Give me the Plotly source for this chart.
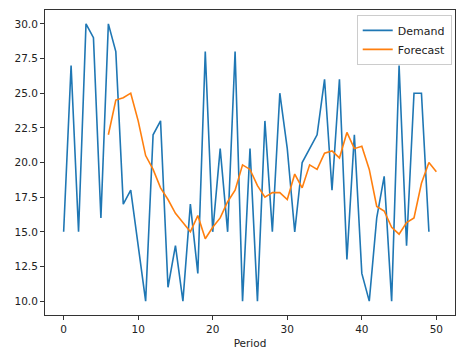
import plotly.graph_objects as go

demand_period = list(range(0, 50))
demand = [15, 27, 15, 30, 29, 16, 30, 28, 17, 18,
          14, 10, 22, 23, 11, 14, 10, 17, 12, 28,
          15, 21, 15, 28, 10, 21, 10, 23, 15, 25,
          21, 15, 20, 21, 22, 26, 18, 26, 13, 22,
          12, 10, 16, 19, 10, 27, 14, 25, 25, 15]

forecast_period = list(range(6, 51))
forecast = [22.0, 24.5, 24.67, 25.0, 23.0, 20.5, 19.5, 18.17, 17.33, 16.33,
            15.67, 15.0, 16.17, 14.5, 15.33, 16.0, 17.17, 18.0, 19.83, 19.5,
            18.33, 17.5, 17.83, 17.83, 17.33, 19.17, 18.17, 19.83, 19.5, 20.67,
            20.83, 20.33, 22.17, 21.0, 21.17, 19.5, 16.83, 16.5, 15.33, 14.83,
            15.67, 16.0, 18.5, 20.0, 19.33]

x_ticks = [0, 10, 20, 30, 40, 50]
y_ticks = [10.0, 12.5, 15.0, 17.5, 20.0, 22.5, 25.0, 27.5, 30.0]

fig = go.Figure()
fig.add_trace(go.Scatter(x=demand_period, y=demand, mode="lines", name="Demand",
                         line=dict(color="#1f77b4", width=1.6)))
fig.add_trace(go.Scatter(x=forecast_period, y=forecast, mode="lines", name="Forecast",
                         line=dict(color="#ff7f0e", width=1.6)))

axis_common = dict(showline=True, mirror=True, linecolor="#333333", linewidth=1,
                   showgrid=False, zeroline=False, ticks="outside", ticklen=4,
                   tickcolor="#333333", tickwidth=1, automargin=False,
                   tickfont=dict(family="DejaVu Sans", size=10.5, color="#222222"))

fig.update_layout(
    width=474, height=356,
    margin=dict(l=45, r=19, t=10, b=41),
    plot_bgcolor="white", paper_bgcolor="white",
    font=dict(family="DejaVu Sans", size=10.5, color="#222222"),
    xaxis=dict(range=[-2.5, 52.5], tickvals=x_ticks,
               title=dict(text="Period", standoff=6, font=dict(size=10.5)), **axis_common),
    yaxis=dict(range=[9, 31], tickvals=y_ticks, tickformat=".1f", **axis_common),
    legend=dict(x=0.992, y=0.984, xanchor="right", yanchor="top",
                bgcolor="rgba(255,255,255,0.8)", bordercolor="#cccccc", borderwidth=1,
                font=dict(size=11), tracegroupgap=0, itemwidth=30),
    showlegend=True,
)

fig.write_html("out.html", config={"displayModeBar": False},
               post_script="document.body.style.margin='0';")
